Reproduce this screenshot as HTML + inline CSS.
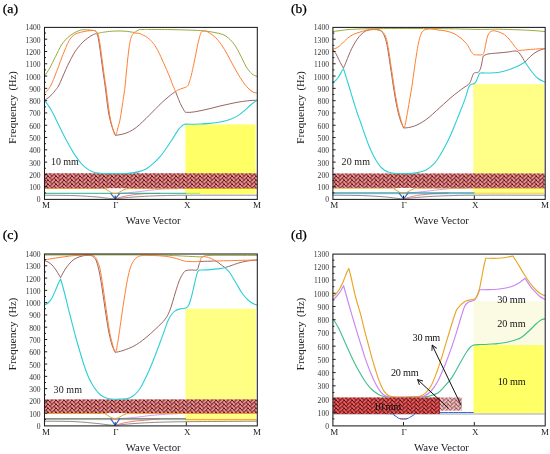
<!DOCTYPE html>
<html lang="en"><head><meta charset="utf-8"><title>Band structures</title>
<style>html,body{margin:0;padding:0;background:#fff}body{width:550px;height:454px;overflow:hidden}svg{display:block;font-family:"Liberation Serif","Noto Serif CJK SC",serif}</style></head><body>
<svg width="550" height="454" viewBox="0 0 550 454">
<defs>
<pattern id="weave" width="8.004" height="4.002" patternUnits="userSpaceOnUse"><path d="M-2.00,-2.00L0.00,0.00M0.00,0.00L-2.00,2.00M6.00,-2.00L4.00,0.00M2.00,-2.00L4.00,0.00M4.00,0.00L2.00,2.00M0.00,0.00L2.00,2.00M-2.00,2.00L0.00,4.00M0.00,4.00L-2.00,6.00M6.00,-2.00L8.00,0.00M8.00,0.00L6.00,2.00M6.00,2.00L4.00,4.00M2.00,2.00L4.00,4.00M4.00,4.00L2.00,6.00M0.00,4.00L2.00,6.00M8.00,0.00L10.01,2.00M6.00,2.00L8.00,4.00M8.00,4.00L6.00,6.00M8.00,4.00L10.01,6.00" fill="none" stroke="#1a0003" stroke-width="0.74" stroke-linecap="square"/></pattern>
<marker id="ah" viewBox="0 0 10 10" refX="9.2" refY="5" markerWidth="7" markerHeight="7" orient="auto" markerUnits="userSpaceOnUse"><path d="M2.2,1.2L9.2,5L2.2,8.8" fill="none" stroke="#111" stroke-width="1.3"/></marker>
</defs>
<rect width="550" height="454" fill="#fff"/>
<g id="panel-a">
<rect x="185.4" y="124.5" width="70.1" height="69.5" fill="#ffff66"/>
<path d="M44.2,195.2 C49.2,195.3 65.5,195.3 74.2,195.6 C82.9,195.9 90.7,196.5 96.2,196.9 C101.7,197.3 104.0,197.9 107.2,198.2 C110.4,198.5 113.8,198.8 115.2,198.9" fill="none" stroke="#6e6e6e" stroke-width="0.8" stroke-linejoin="round" />
<path d="M115.2,198.9 C116.8,198.7 121.0,198.2 125.2,197.8 C129.3,197.4 134.3,196.9 140.2,196.6 C146.0,196.2 152.5,195.9 160.2,195.7 C167.8,195.5 170.0,195.3 186.1,195.2 C202.3,195.1 245.2,195.2 257.1,195.2" fill="none" stroke="#6e6e6e" stroke-width="0.8" stroke-linejoin="round" />
<path d="M115.2,198.9 C116.0,198.7 118.3,197.9 120.2,197.4 C122.0,196.9 123.8,196.4 126.2,196.0 C128.5,195.6 131.0,195.1 134.2,194.7 C137.3,194.3 140.8,193.9 145.2,193.7 C149.5,193.5 157.7,193.4 160.2,193.4" fill="none" stroke="#f05a5a" stroke-width="0.8" stroke-linejoin="round" />
<path d="M119.2,193.3 C120.8,193.2 125.7,193.0 129.2,192.7 C132.7,192.4 136.5,191.9 140.2,191.5 C143.8,191.1 147.0,190.5 151.2,190.1 C155.3,189.7 160.7,189.2 165.2,189.0 C169.6,188.8 175.9,188.8 178.1,188.7" fill="none" stroke="#c886f2" stroke-width="0.8" stroke-linejoin="round" />
<path d="M44.2,193.3H186.1" stroke="#1fa98a" stroke-width="0.95" fill="none"/>
<path d="M44.2,188.5 C53.7,188.5 90.9,188.4 101.2,188.5 C111.4,188.6 104.2,188.8 105.7,189.3 C107.1,189.8 108.5,191.1 109.7,191.7 C110.8,192.3 111.4,192.8 112.4,193.1 C113.3,193.4 114.2,193.5 115.2,193.5 C116.1,193.5 117.2,193.3 118.2,192.9 C119.2,192.5 120.0,191.7 121.2,191.1 C122.3,190.5 123.5,189.7 125.2,189.3 C126.8,188.9 121.0,188.7 131.2,188.6 C141.3,188.5 165.1,188.5 186.1,188.5 C207.1,188.5 245.2,188.5 257.1,188.5" fill="none" stroke="#e8a628" stroke-width="1.0" stroke-linejoin="round" />
<path d="M110.6,193.3 L115.2,198.8 L119.8,193.3" stroke="#2a6be0" stroke-width="1.2" fill="none"/>
<path d="M186,193.3H200" stroke="#a8e070" stroke-width="1" fill="none"/>
<rect x="44.7" y="173.3" width="212.1" height="14.9" fill="#f98d8d"/><rect x="44.7" y="173.3" width="212.1" height="14.9" fill="url(#weave)" opacity="1"/>
<path d="M44.5,76.1 C45.4,74.8 47.9,71.3 49.8,68.0 C51.6,64.7 53.6,60.2 55.6,56.4 C57.6,52.5 59.5,48.0 61.5,44.9 C63.5,41.8 65.4,39.9 67.3,38.0 C69.2,36.1 71.2,34.8 73.1,33.6 C75.0,32.4 77.2,31.2 78.9,30.6 C80.6,30.0 81.8,29.8 83.3,29.7 C84.8,29.6 85.9,29.8 87.6,29.9 C89.3,30.0 92.2,30.3 93.5,30.5 C94.8,30.7 94.9,30.8 95.6,31.3 C96.3,31.8 96.8,33.1 97.5,33.4 C98.2,33.6 99.2,33.0 100.0,32.8 C100.8,32.6 100.6,32.6 102.2,32.4 C103.8,32.2 107.2,31.6 109.5,31.4 C111.8,31.2 113.6,31.1 116.0,31.0 C118.4,30.9 121.7,31.0 124.0,31.1 C126.3,31.2 128.2,31.6 130.0,31.8 C131.8,32.0 133.3,32.6 134.5,32.4 C135.7,32.2 136.2,31.3 137.0,30.8 C137.8,30.3 138.4,29.8 139.6,29.6 C140.8,29.4 142.3,29.5 144.0,29.5 C145.7,29.5 145.7,29.5 150.0,29.5 C154.3,29.5 163.3,29.5 170.0,29.6 C176.7,29.7 184.3,29.9 190.0,30.1 C195.7,30.3 199.9,30.5 203.9,30.9 C207.9,31.3 210.9,31.8 214.1,32.4 C217.2,33.0 220.4,33.5 222.8,34.5 C225.2,35.5 226.7,36.5 228.6,38.2 C230.5,39.9 232.6,41.9 234.5,44.7 C236.4,47.5 238.4,51.3 240.3,54.9 C242.2,58.5 244.2,63.4 246.1,66.5 C248.0,69.7 250.1,72.1 251.9,73.8 C253.7,75.5 256.1,76.0 257.0,76.4" fill="none" stroke="#9ba83a" stroke-width="1.0" stroke-linejoin="round" />
<path d="M44.4,100.2 C45.0,99.8 46.7,99.0 48.0,98.0 C49.3,97.0 50.8,95.5 52.0,94.3 C53.2,93.1 53.9,92.1 55.0,90.7 C56.1,89.3 57.3,88.1 58.5,86.0 C59.7,83.9 60.8,81.0 62.0,78.3 C63.2,75.5 64.6,72.2 65.8,69.5 C67.0,66.8 68.2,64.4 69.4,62.0 C70.6,59.6 71.9,57.0 73.1,54.9 C74.3,52.8 75.5,51.0 76.7,49.3 C77.9,47.6 79.2,46.1 80.4,44.7 C81.6,43.3 82.8,42.1 84.0,41.0 C85.2,39.9 86.5,39.0 87.6,38.2 C88.7,37.4 89.6,36.7 90.6,36.1 C91.6,35.5 92.6,34.9 93.5,34.5 C94.4,34.1 95.5,33.5 96.2,33.8 C96.9,34.0 97.2,33.5 97.8,36.0 C98.4,38.5 99.2,43.3 100.0,49.1 C100.8,54.9 102.1,64.8 102.9,70.9 C103.8,77.1 104.2,79.3 105.1,86.0 C106.0,92.7 107.2,104.3 108.3,111.0 C109.4,117.7 110.6,121.9 111.8,126.0 C113.0,130.1 114.9,133.8 115.5,135.4 L115.5,135.4 C116.8,135.2 120.8,134.6 123.1,134.0 C125.4,133.4 127.4,132.7 129.6,131.6 C131.8,130.5 134.0,129.2 136.2,127.5 C138.4,125.8 140.5,123.8 142.7,121.7 C144.9,119.7 147.1,117.4 149.3,115.2 C151.5,113.0 153.6,110.8 155.8,108.6 C158.0,106.4 160.2,104.1 162.4,102.1 C164.6,100.1 166.7,98.2 168.9,96.4 C171.1,94.6 174.4,92.2 175.5,91.4 L175.5,91.4 C176.0,92.8 177.6,97.0 178.7,99.6 C179.8,102.2 180.9,104.9 182.0,107.0 C183.1,109.1 184.8,111.4 185.3,112.3 L185.3,112.3 C186.4,112.3 189.4,112.5 191.8,112.2 C194.2,112.0 197.0,111.4 200.0,110.8 C203.0,110.2 206.7,109.4 210.0,108.6 C213.3,107.8 216.7,106.8 220.0,106.0 C223.3,105.2 226.7,104.5 230.0,103.8 C233.3,103.1 236.7,102.3 240.0,101.8 C243.3,101.3 247.2,100.9 250.0,100.6 C252.8,100.3 255.8,100.3 257.0,100.2" fill="none" stroke="#9a6464" stroke-width="1.0" stroke-linejoin="round" />
<path d="M44.4,93.1 C44.9,92.6 46.5,91.5 47.5,90.3 C48.5,89.1 49.3,88.2 50.5,86.0 C51.7,83.8 53.2,80.2 54.5,77.0 C55.8,73.8 57.2,69.8 58.5,66.5 C59.8,63.2 60.8,60.1 62.0,57.0 C63.2,53.9 64.8,50.0 65.8,47.6 C66.8,45.2 67.3,44.2 68.0,42.8 C68.7,41.3 69.1,40.3 70.2,38.9 C71.3,37.5 72.8,35.6 74.5,34.5 C76.2,33.4 78.2,33.0 80.4,32.4 C82.6,31.8 85.4,31.2 87.6,30.9 C89.8,30.6 92.0,30.4 93.5,30.5 C95.0,30.6 95.6,30.7 96.4,31.6 C97.2,32.5 97.8,33.1 98.5,36.0 C99.2,38.9 99.9,43.3 100.7,49.1 C101.5,54.9 102.8,64.8 103.6,70.9 C104.4,77.1 105.1,81.2 105.8,86.0 C106.5,90.8 106.9,94.8 107.6,100.0 C108.3,105.2 109.2,112.3 110.0,117.0 C110.8,121.7 111.9,125.2 112.6,128.0 C113.3,130.8 113.8,132.4 114.3,133.6 C114.8,134.8 115.1,135.3 115.5,135.2 C115.9,135.1 116.2,134.2 116.6,133.2 C116.9,132.2 117.1,131.1 117.6,129.0 C118.1,127.0 119.1,124.1 119.8,120.9 C120.5,117.7 121.0,113.5 121.6,110.0 C122.2,106.5 122.6,103.6 123.2,99.6 C123.8,95.6 124.5,90.8 125.1,86.0 C125.6,81.2 126.0,75.8 126.5,70.9 C127.0,66.0 127.5,60.8 128.0,56.4 C128.5,52.0 129.0,47.7 129.5,44.7 C130.0,41.7 130.4,39.9 130.9,38.2 C131.4,36.5 131.9,35.4 132.4,34.6 C132.9,33.8 133.3,33.6 133.8,33.4 C134.3,33.1 134.5,33.1 135.3,33.1 C136.2,33.1 137.8,33.2 138.9,33.4 C140.0,33.6 140.7,34.0 141.8,34.5 C142.9,35.0 144.3,35.6 145.5,36.3 C146.7,37.0 148.0,38.0 149.1,38.9 C150.2,39.8 151.0,40.7 152.0,41.8 C153.0,42.9 153.9,44.0 154.9,45.5 C155.9,47.0 156.8,48.7 157.8,50.5 C158.8,52.3 159.7,54.3 160.7,56.4 C161.7,58.5 162.6,60.7 163.6,62.9 C164.6,65.1 165.4,67.0 166.5,69.5 C167.6,72.0 169.1,75.5 170.2,78.2 C171.3,81.0 172.2,83.8 173.1,86.0 C174.0,88.2 175.1,90.5 175.5,91.4 L175.5,91.4 C176.3,91.0 178.8,89.7 180.4,89.0 C182.0,88.3 184.1,87.9 185.3,87.4 C186.5,86.9 187.1,86.5 187.6,86.0 C188.1,85.5 188.2,85.2 188.6,84.3 C189.0,83.4 189.4,82.0 189.8,80.5 C190.2,79.0 190.6,78.3 191.3,75.3 C192.0,72.2 193.2,66.8 194.2,62.2 C195.2,57.6 196.2,51.6 197.1,47.6 C197.9,43.6 198.7,40.3 199.3,38.0 C199.9,35.7 200.2,34.7 200.6,33.6 C201.0,32.5 201.4,31.8 202.0,31.4 C202.6,30.9 203.2,30.9 203.9,30.9 C204.7,30.9 205.5,30.9 206.5,31.3 C207.5,31.7 208.2,32.1 209.7,33.1 C211.2,34.1 213.6,35.6 215.5,37.5 C217.4,39.4 219.5,41.9 221.4,44.7 C223.3,47.5 225.3,50.8 227.2,54.2 C229.1,57.6 231.1,61.6 233.0,65.1 C234.9,68.6 236.9,72.1 238.8,75.3 C240.7,78.5 242.9,81.7 244.6,84.0 C246.3,86.3 247.6,87.7 249.0,89.0 C250.4,90.3 251.7,91.3 253.0,92.0 C254.3,92.7 256.3,92.8 257.0,93.0" fill="none" stroke="#ff7f32" stroke-width="1.0" stroke-linejoin="round" />
<path d="M44.5,100.3 C45.0,101.0 46.7,103.2 47.8,104.8 C48.9,106.4 50.0,107.9 51.2,110.0 C52.4,112.1 53.8,114.8 55.0,117.3 C56.2,119.8 57.5,122.5 58.7,125.0 C59.9,127.5 61.1,130.1 62.4,132.6 C63.6,135.1 64.9,137.5 66.2,139.9 C67.5,142.3 68.8,144.6 70.0,146.8 C71.2,149.0 72.5,151.1 73.7,153.1 C75.0,155.1 76.2,157.0 77.5,158.7 C78.8,160.4 80.0,162.0 81.2,163.4 C82.5,164.8 83.8,166.0 85.0,167.1 C86.2,168.2 87.5,169.1 88.7,169.9 C89.9,170.7 91.2,171.2 92.4,171.7 C93.7,172.2 94.9,172.5 96.2,172.8 C97.5,173.1 98.4,173.2 100.0,173.3 C101.6,173.4 103.5,173.5 106.0,173.6 C108.5,173.7 112.0,173.7 115.0,173.7 C118.0,173.7 121.2,173.6 124.0,173.5 C126.8,173.4 129.3,173.2 132.0,172.9 C134.7,172.6 137.6,172.1 140.0,171.4 C142.4,170.7 144.3,170.1 146.5,168.8 C148.7,167.5 150.9,165.6 153.1,163.7 C155.3,161.8 157.4,159.7 159.6,157.2 C161.8,154.7 164.0,151.6 166.2,148.5 C168.4,145.4 170.7,141.7 172.7,138.6 C174.7,135.5 176.6,132.1 178.2,129.9 C179.8,127.7 181.3,126.3 182.5,125.3 C183.7,124.3 184.9,124.3 185.4,124.1 L185.4,124.1 C186.2,124.1 187.6,124.2 190.0,124.2 C192.4,124.2 196.7,124.1 200.0,124.0 C203.3,123.9 206.7,123.7 210.0,123.4 C213.3,123.1 216.7,122.7 220.0,122.0 C223.3,121.3 227.0,120.5 230.0,119.4 C233.0,118.3 235.7,117.0 238.0,115.6 C240.3,114.2 242.0,112.7 244.0,111.0 C246.0,109.3 247.8,107.3 250.0,105.5 C252.2,103.7 255.8,101.1 257.0,100.2" fill="none" stroke="#2ccfd6" stroke-width="1.1" stroke-linejoin="round" />
<rect x="44.5" y="27.4" width="212.8" height="172.0" fill="none" stroke="#1c1c1c" stroke-width="1.05"/>
<path d="M44.2,192.85h1.8M44.2,186.71h3.0M44.2,180.56h1.8M44.2,174.41h3.0M44.2,168.27h1.8M44.2,162.12h3.0M44.2,155.97h1.8M44.2,149.83h3.0M44.2,143.68h1.8M44.2,137.54h3.0M44.2,131.39h1.8M44.2,125.24h3.0M44.2,119.10h1.8M44.2,112.95h3.0M44.2,106.80h1.8M44.2,100.66h3.0M44.2,94.51h1.8M44.2,88.36h3.0M44.2,82.22h1.8M44.2,76.07h3.0M44.2,69.92h1.8M44.2,63.78h3.0M44.2,57.63h1.8M44.2,51.49h3.0M44.2,45.34h1.8M44.2,39.19h3.0M44.2,33.05h1.8M115.2,199.0v-3.4M186.3,199.0v-3.4" stroke="#1c1c1c" stroke-width="1" fill="none"/>
<g font-size="7.6" text-anchor="end" fill="#333">
<text x="40.6" y="202.4">0</text>
<text x="40.6" y="190.1">100</text>
<text x="40.6" y="177.8">200</text>
<text x="40.6" y="165.5">300</text>
<text x="40.6" y="153.2">400</text>
<text x="40.6" y="140.9">500</text>
<text x="40.6" y="128.6">600</text>
<text x="40.6" y="116.4">700</text>
<text x="40.6" y="104.1">800</text>
<text x="40.6" y="91.8">900</text>
<text x="40.6" y="79.5">1000</text>
<text x="40.6" y="67.2">1100</text>
<text x="40.6" y="54.9">1200</text>
<text x="40.6" y="42.6">1300</text>
<text x="40.6" y="30.3">1400</text>
</g>
<g font-size="9" text-anchor="middle" fill="#222">
<text x="45.9" y="208.0">M</text>
<text x="115.8" y="208.0">Γ</text>
<text x="187.3" y="208.0">X</text>
<text x="257.0" y="208.0">M</text>
</g>
<text x="153.2" y="224.3" font-size="10.5" text-anchor="middle" textLength="55" lengthAdjust="spacingAndGlyphs" fill="#222">Wave Vector</text>
<text transform="translate(16.0,144.0) rotate(-90)" font-size="9.8" textLength="49" lengthAdjust="spacingAndGlyphs" fill="#222">Frequency</text>
<text transform="translate(16.0,90.4) rotate(-90)" font-size="9.8" textLength="19" lengthAdjust="spacingAndGlyphs" fill="#222">(Hz)</text>
<text x="2.7" y="12.6" font-size="13.4" textLength="15.4" lengthAdjust="spacingAndGlyphs" fill="#000" stroke="#000" stroke-width="0.25">(a)</text>
<text x="51" y="165" font-size="10" textLength="27.7" lengthAdjust="spacing" fill="#222">10 mm</text>
</g>
<g id="panel-b">
<rect x="473.3" y="84.1" width="70.8" height="110.1" fill="#ffff88"/>
<path d="M332.6,195.2 C337.6,195.3 353.9,195.3 362.6,195.6 C371.3,195.9 379.1,196.5 384.6,196.9 C390.1,197.3 392.4,197.9 395.6,198.2 C398.8,198.5 402.2,198.8 403.6,198.9" fill="none" stroke="#6e6e6e" stroke-width="0.8" stroke-linejoin="round" />
<path d="M403.6,198.9 C405.2,198.7 409.4,198.2 413.6,197.8 C417.7,197.4 422.7,196.9 428.6,196.6 C434.4,196.2 440.9,195.9 448.6,195.7 C456.2,195.5 458.4,195.3 474.5,195.2 C490.6,195.1 533.6,195.2 545.5,195.2" fill="none" stroke="#6e6e6e" stroke-width="0.8" stroke-linejoin="round" />
<path d="M403.6,198.9 C404.4,198.7 406.7,197.9 408.6,197.4 C410.4,196.9 412.2,196.4 414.6,196.0 C416.9,195.6 419.4,195.1 422.6,194.7 C425.7,194.3 429.2,194.0 433.6,193.7 C437.9,193.4 446.1,193.0 448.6,192.9" fill="none" stroke="#f05a5a" stroke-width="0.8" stroke-linejoin="round" />
<path d="M407.6,192.8 C409.2,192.7 414.1,192.5 417.6,192.2 C421.1,191.9 424.9,191.4 428.6,191.0 C432.2,190.6 435.4,190.0 439.6,189.6 C443.7,189.2 449.1,188.7 453.6,188.5 C458.0,188.3 464.3,188.4 466.5,188.4" fill="none" stroke="#c886f2" stroke-width="0.8" stroke-linejoin="round" />
<path d="M332.6,192.8H474.5" stroke="#1fa98a" stroke-width="0.95" fill="none"/>
<path d="M332.6,193.7H474.5" stroke="#2a6be0" stroke-width="0.55" fill="none"/>
<path d="M332.6,188.2 C342.1,188.2 379.3,188.1 389.6,188.2 C399.8,188.3 392.6,188.5 394.1,189.0 C395.5,189.5 396.9,190.8 398.1,191.4 C399.2,192.0 399.8,192.5 400.8,192.8 C401.7,193.1 402.6,193.2 403.6,193.2 C404.5,193.2 405.6,193.0 406.6,192.6 C407.6,192.2 408.4,191.4 409.6,190.8 C410.7,190.2 411.9,189.4 413.6,189.0 C415.2,188.6 409.4,188.4 419.6,188.3 C429.7,188.2 453.5,188.2 474.5,188.2 C495.5,188.2 533.6,188.2 545.5,188.2" fill="none" stroke="#e8a628" stroke-width="1.0" stroke-linejoin="round" />
<path d="M398.9,192.8 L403.6,198.8 L408.2,192.8" stroke="#2a6be0" stroke-width="1.2" fill="none"/>
<path d="M473.6,193.2H544" stroke="#eec24a" stroke-width="0.8" fill="none"/>
<rect x="333.1" y="173.5" width="211.6" height="14.4" fill="#f98d8d"/><rect x="333.1" y="173.5" width="211.6" height="14.4" fill="url(#weave)" opacity="1"/>
<path d="M332.8,31.6 C334.0,31.4 337.5,30.9 340.0,30.6 C342.5,30.3 344.7,29.9 348.0,29.6 C351.3,29.3 355.0,29.2 360.0,29.0 C365.0,28.8 365.0,28.7 378.0,28.6 C391.0,28.5 421.3,28.5 438.0,28.6 C454.7,28.7 468.0,29.3 478.0,29.4 C488.0,29.5 491.3,29.1 498.0,29.2 C504.7,29.3 512.0,29.6 518.0,29.8 C524.0,30.0 529.5,30.3 534.0,30.6 C538.5,30.9 543.2,31.4 545.0,31.6" fill="none" stroke="#9ba83a" stroke-width="1.0" stroke-linejoin="round" />
<path d="M332.9,49.6 C333.4,50.2 334.8,51.9 335.8,53.5 C336.8,55.1 337.7,57.4 338.7,59.3 C339.7,61.2 340.8,63.6 341.6,65.1 C342.4,66.5 343.2,67.5 343.5,68.0 L343.5,68.0 C343.9,67.0 345.1,64.4 346.0,62.2 C346.9,60.0 347.9,57.2 348.9,54.9 C349.9,52.6 350.7,50.6 351.8,48.4 C352.9,46.2 354.3,43.8 355.5,41.8 C356.7,39.8 357.8,38.3 359.1,36.7 C360.4,35.1 362.1,33.5 363.5,32.4 C364.9,31.3 366.1,30.7 367.8,30.2 C369.5,29.7 371.7,29.5 373.6,29.5 C375.6,29.5 378.0,29.7 379.5,30.2 C381.0,30.7 381.5,31.2 382.4,32.4 C383.3,33.6 384.1,35.0 385.0,37.5 C385.9,40.0 386.6,42.8 387.5,47.6 C388.4,52.4 389.4,60.1 390.4,66.5 C391.4,72.9 392.4,80.2 393.3,86.0 C394.2,91.8 395.0,96.6 395.8,101.0 C396.6,105.4 397.4,109.1 398.2,112.5 C399.0,115.9 399.9,118.9 400.8,121.5 C401.7,124.1 403.3,126.9 403.8,128.0 L403.8,128.0 C404.6,127.9 406.9,127.8 408.7,127.5 C410.5,127.2 412.3,126.8 414.5,126.0 C416.7,125.2 419.4,123.9 421.8,122.4 C424.2,121.0 426.7,119.2 429.1,117.3 C431.5,115.3 434.0,112.9 436.4,110.7 C438.8,108.5 441.2,106.4 443.6,104.2 C446.0,102.0 448.5,99.7 450.9,97.6 C453.3,95.5 456.0,93.5 458.2,91.8 C460.4,90.1 462.3,88.7 464.0,87.5 C465.7,86.3 467.3,85.5 468.4,84.5 C469.5,83.5 469.9,82.8 470.5,81.6 C471.1,80.4 471.5,78.6 472.0,77.3 C472.5,76.0 472.9,74.4 473.5,73.6 C474.1,72.8 474.8,72.8 475.6,72.6 C476.4,72.4 477.5,73.1 478.4,72.3 C479.2,71.5 480.1,69.6 480.7,67.9 C481.3,66.2 481.6,64.0 482.0,62.0 C482.4,60.0 483.0,57.0 483.2,56.0 L483.2,56.0 C484.0,55.7 485.5,54.5 488.0,54.0 C490.5,53.5 494.7,53.3 498.0,53.0 C501.3,52.7 505.0,52.3 508.0,52.0 C511.0,51.7 514.0,50.7 516.0,51.0 C518.0,51.3 518.5,52.2 520.0,54.0 C521.5,55.8 524.2,60.7 525.0,62.0 L525.0,62.0 C526.2,60.8 529.8,56.8 532.0,55.0 C534.2,53.2 535.8,52.1 538.0,51.0 C540.2,49.9 543.8,48.9 545.0,48.5" fill="none" stroke="#9a6464" stroke-width="1.0" stroke-linejoin="round" />
<path d="M332.9,49.1 C333.6,48.9 335.9,48.5 337.3,47.6 C338.8,46.8 339.9,45.6 341.6,44.0 C343.3,42.4 345.6,39.8 347.5,38.2 C349.4,36.6 351.4,35.5 353.3,34.5 C355.2,33.5 356.9,33.1 359.1,32.4 C361.3,31.7 364.0,30.7 366.4,30.2 C368.8,29.7 371.4,29.6 373.6,29.5 C375.8,29.4 377.9,29.4 379.5,29.9 C381.1,30.4 382.0,31.1 383.1,32.4 C384.2,33.7 385.1,35.0 386.0,37.5 C386.9,40.0 387.3,42.8 388.2,47.6 C389.1,52.4 390.1,60.1 391.1,66.5 C392.1,72.9 393.1,80.2 394.0,86.0 C394.9,91.8 395.7,96.7 396.5,101.0 C397.3,105.3 398.0,108.7 398.8,112.0 C399.6,115.3 400.5,118.6 401.2,121.0 C401.9,123.4 402.4,125.2 402.8,126.4 C403.2,127.6 403.5,128.1 403.9,127.9 C404.3,127.8 404.3,128.5 405.0,125.5 C405.7,122.5 406.8,116.5 407.9,110.0 C409.0,103.5 410.8,93.2 411.9,86.5 C412.9,79.8 413.4,75.2 414.2,70.0 C414.9,64.8 415.7,59.5 416.4,55.0 C417.1,50.5 417.8,46.2 418.5,43.0 C419.2,39.8 419.8,37.5 420.5,35.5 C421.2,33.5 421.9,32.0 423.0,31.0 C424.1,29.9 425.5,29.5 427.0,29.2 C428.5,28.9 430.2,28.9 432.0,29.0 C433.8,29.1 435.7,29.7 438.0,30.0 C440.3,30.3 443.3,30.4 446.0,31.0 C448.7,31.6 451.7,32.5 454.0,33.6 C456.3,34.7 458.3,36.3 460.0,37.5 C461.7,38.7 462.7,39.6 464.0,41.0 C465.3,42.4 466.9,44.1 468.0,45.8 C469.1,47.5 469.9,49.8 470.9,51.3 C471.9,52.8 473.3,54.2 473.8,54.8 L473.8,54.8 C474.5,54.8 476.6,54.9 478.0,54.9 C479.4,54.9 481.1,55.0 482.0,54.8 C482.9,54.6 483.0,54.5 483.5,53.5 C484.0,52.5 484.4,51.1 484.8,49.1 C485.2,47.1 485.7,44.0 486.2,41.8 C486.7,39.6 487.0,37.6 487.6,36.0 C488.2,34.4 489.0,33.3 489.8,32.4 C490.6,31.5 491.3,31.0 492.5,30.8 C493.7,30.6 495.1,30.8 497.1,31.4 C499.1,32.0 502.2,33.0 504.4,34.5 C506.6,36.0 508.5,38.4 510.2,40.4 C511.9,42.4 513.2,44.5 514.5,46.2 C515.8,47.9 517.6,49.8 518.2,50.5 L518.2,50.5 C519.8,50.4 524.7,50.0 528.0,49.7 C531.3,49.4 535.2,49.1 538.0,48.9 C540.8,48.7 543.8,48.6 545.0,48.5" fill="none" stroke="#ff7f32" stroke-width="1.0" stroke-linejoin="round" />
<path d="M332.9,82.5 C333.4,82.2 334.8,81.4 335.8,80.4 C336.8,79.4 337.7,78.2 338.7,76.7 C339.7,75.2 340.8,72.9 341.6,71.6 C342.4,70.2 343.2,69.1 343.5,68.6 L343.5,68.6 C343.9,69.9 345.1,73.8 346.0,76.7 C346.9,79.6 347.7,82.2 348.9,86.0 C350.1,89.8 351.6,95.0 353.0,99.5 C354.4,104.0 355.9,109.2 357.2,113.0 C358.4,116.8 359.3,118.5 360.5,122.0 C361.7,125.5 363.2,130.2 364.6,134.0 C366.0,137.8 367.3,141.7 368.6,145.0 C369.9,148.3 371.3,151.3 372.6,154.0 C373.9,156.7 375.2,158.9 376.5,161.0 C377.8,163.1 379.1,165.2 380.4,166.7 C381.7,168.2 382.9,169.1 384.2,170.0 C385.5,170.9 386.4,171.4 388.0,172.0 C389.6,172.6 391.5,173.0 394.0,173.3 C396.5,173.6 400.0,173.7 403.0,173.7 C406.0,173.7 409.4,173.6 412.0,173.4 C414.6,173.2 416.1,173.0 418.5,172.4 C420.9,171.8 423.9,171.3 426.5,169.8 C429.1,168.3 432.2,165.7 434.4,163.4 C436.6,161.1 437.9,158.6 439.7,155.8 C441.5,153.0 443.2,149.8 445.0,146.5 C446.8,143.2 448.5,139.8 450.2,136.0 C451.9,132.2 453.5,128.2 455.3,123.8 C457.1,119.3 459.4,113.7 461.1,109.3 C462.8,104.9 464.3,101.0 465.5,97.6 C466.7,94.2 467.4,90.9 468.1,88.9 C468.8,86.9 469.0,86.4 469.5,85.6 C470.0,84.8 470.5,84.6 471.3,84.3 C472.1,84.0 473.4,84.1 474.2,83.5 C475.0,82.9 475.7,82.2 476.4,80.9 C477.1,79.6 477.8,77.1 478.5,75.8 C479.2,74.5 478.8,73.6 480.4,73.1 C482.0,72.6 485.1,73.1 488.0,73.0 C490.9,72.9 494.7,73.0 498.0,72.5 C501.3,72.0 504.7,71.1 508.0,70.0 C511.3,68.9 515.2,67.3 518.0,66.0 C520.8,64.7 523.8,62.7 525.0,62.0 L525.0,62.0 C526.2,63.7 529.8,69.2 532.0,72.0 C534.2,74.8 535.8,76.8 538.0,78.5 C540.2,80.2 543.8,81.4 545.0,82.0" fill="none" stroke="#2ccfd6" stroke-width="1.1" stroke-linejoin="round" />
<rect x="332.9" y="27.4" width="212.3" height="172.0" fill="none" stroke="#1c1c1c" stroke-width="1.05"/>
<path d="M332.6,192.85h1.8M332.6,186.71h3.0M332.6,180.56h1.8M332.6,174.41h3.0M332.6,168.27h1.8M332.6,162.12h3.0M332.6,155.97h1.8M332.6,149.83h3.0M332.6,143.68h1.8M332.6,137.54h3.0M332.6,131.39h1.8M332.6,125.24h3.0M332.6,119.10h1.8M332.6,112.95h3.0M332.6,106.80h1.8M332.6,100.66h3.0M332.6,94.51h1.8M332.6,88.36h3.0M332.6,82.22h1.8M332.6,76.07h3.0M332.6,69.92h1.8M332.6,63.78h3.0M332.6,57.63h1.8M332.6,51.49h3.0M332.6,45.34h1.8M332.6,39.19h3.0M332.6,33.05h1.8M403.5,199.0v-3.4M474.3,199.0v-3.4" stroke="#1c1c1c" stroke-width="1" fill="none"/>
<g font-size="7.6" text-anchor="end" fill="#333">
<text x="329.0" y="202.4">0</text>
<text x="329.0" y="190.1">100</text>
<text x="329.0" y="177.8">200</text>
<text x="329.0" y="165.5">300</text>
<text x="329.0" y="153.2">400</text>
<text x="329.0" y="140.9">500</text>
<text x="329.0" y="128.6">600</text>
<text x="329.0" y="116.4">700</text>
<text x="329.0" y="104.1">800</text>
<text x="329.0" y="91.8">900</text>
<text x="329.0" y="79.5">1000</text>
<text x="329.0" y="67.2">1100</text>
<text x="329.0" y="54.9">1200</text>
<text x="329.0" y="42.6">1300</text>
<text x="329.0" y="30.3">1400</text>
</g>
<g font-size="9" text-anchor="middle" fill="#222">
<text x="334.3" y="208.0">M</text>
<text x="404.1" y="208.0">Γ</text>
<text x="475.3" y="208.0">X</text>
<text x="544.9" y="208.0">M</text>
</g>
<text x="441.4" y="224.3" font-size="10.5" text-anchor="middle" textLength="55" lengthAdjust="spacingAndGlyphs" fill="#222">Wave Vector</text>
<text transform="translate(304.4,144.0) rotate(-90)" font-size="9.8" textLength="49" lengthAdjust="spacingAndGlyphs" fill="#222">Frequency</text>
<text transform="translate(304.4,90.4) rotate(-90)" font-size="9.8" textLength="19" lengthAdjust="spacingAndGlyphs" fill="#222">(Hz)</text>
<text x="291.1" y="12.6" font-size="13.4" textLength="15.8" lengthAdjust="spacingAndGlyphs" fill="#000" stroke="#000" stroke-width="0.25">(b)</text>
<text x="341.6" y="165" font-size="10" textLength="28.4" lengthAdjust="spacing" fill="#222">20 mm</text>
</g>
<g id="panel-c">
<rect x="185.4" y="308.7" width="70.4" height="112.1" fill="#ffff84"/>
<path d="M44.2,421.2 C49.2,421.3 65.5,421.2 74.2,421.6 C82.9,422.0 90.7,422.9 96.2,423.4 C101.7,423.9 104.0,424.4 107.2,424.7 C110.4,425.0 113.8,425.3 115.2,425.4" fill="none" stroke="#6e6e6e" stroke-width="0.8" stroke-linejoin="round" />
<path d="M115.2,425.4 C116.8,425.2 121.0,424.7 125.2,424.3 C129.3,423.9 134.3,423.5 140.2,423.1 C146.0,422.8 152.5,422.4 160.2,422.2 C167.8,422.0 170.0,421.9 186.1,421.7 C202.3,421.5 245.2,421.3 257.1,421.2" fill="none" stroke="#6e6e6e" stroke-width="0.8" stroke-linejoin="round" />
<path d="M115.2,425.4 C116.0,425.1 118.3,424.4 120.2,423.9 C122.0,423.4 123.8,422.9 126.2,422.5 C128.5,422.1 131.0,421.6 134.2,421.2 C137.3,420.8 140.8,420.6 145.2,420.2 C149.5,419.8 157.7,419.0 160.2,418.7" fill="none" stroke="#f05a5a" stroke-width="0.8" stroke-linejoin="round" />
<path d="M119.2,418.6 C120.8,418.5 125.7,418.3 129.2,418.0 C132.7,417.7 136.5,417.2 140.2,416.8 C143.8,416.4 147.0,415.8 151.2,415.4 C155.3,415.0 160.7,414.6 165.2,414.3 C169.6,414.0 175.9,413.8 178.1,413.7" fill="none" stroke="#c886f2" stroke-width="0.8" stroke-linejoin="round" />
<path d="M44.2,418.6H186.1" stroke="#1fa98a" stroke-width="0.95" fill="none"/>
<path d="M44.2,419.6H186.1" stroke="#f05a5a" stroke-width="0.7" fill="none"/>
<path d="M44.2,413.5 C53.7,413.5 90.9,413.4 101.2,413.5 C111.4,413.6 104.2,413.8 105.7,414.3 C107.1,414.8 108.5,416.1 109.7,416.7 C110.8,417.3 111.4,417.8 112.4,418.1 C113.3,418.4 114.2,418.5 115.2,418.5 C116.1,418.5 117.2,418.3 118.2,417.9 C119.2,417.5 120.0,416.7 121.2,416.1 C122.3,415.5 123.5,414.7 125.2,414.3 C126.8,413.9 121.0,413.7 131.2,413.6 C141.3,413.5 165.1,413.5 186.1,413.5 C207.1,413.5 245.2,413.5 257.1,413.5" fill="none" stroke="#e8a628" stroke-width="1.0" stroke-linejoin="round" />
<path d="M110.6,418.6 L115.2,425.3 L119.8,418.6" stroke="#2a6be0" stroke-width="1.2" fill="none"/>
<path d="M185.4,419.7H256.8" stroke="#ff7f32" stroke-width="0.9"/>
<rect x="44.7" y="399.4" width="212.1" height="13.7" fill="#f98d8d"/><rect x="44.7" y="399.4" width="212.1" height="13.7" fill="url(#weave)" opacity="1"/>
<path d="M44.4,255.0 C62.0,255.0 125.7,254.8 150.0,255.0 C174.3,255.2 181.3,256.1 190.0,256.4 C198.7,256.7 198.7,257.0 202.0,256.8 C205.3,256.6 200.8,255.6 210.0,255.4 C219.2,255.2 249.2,255.4 257.0,255.4" fill="none" stroke="#9ba83a" stroke-width="1.0" stroke-linejoin="round" />
<path d="M44.4,260.6 C45.0,260.8 46.7,261.3 48.0,262.0 C49.3,262.7 50.7,263.7 52.0,265.0 C53.3,266.3 54.8,268.3 56.0,270.0 C57.2,271.7 58.2,273.7 59.0,275.0 C59.8,276.3 60.3,277.2 60.6,277.7 L60.6,277.7 C60.9,277.1 61.5,275.6 62.4,274.0 C63.3,272.4 64.7,269.8 66.0,268.0 C67.3,266.2 68.7,264.4 70.0,263.0 C71.3,261.6 72.3,260.5 74.0,259.4 C75.7,258.3 78.0,257.3 80.0,256.6 C82.0,255.9 84.2,255.6 86.0,255.4 C87.8,255.2 89.7,255.3 91.0,255.6 C92.3,255.9 93.0,256.3 94.0,257.4 C95.0,258.5 95.8,259.4 96.7,262.0 C97.6,264.6 98.5,268.2 99.5,273.0 C100.5,277.8 101.4,284.0 102.5,291.0 C103.6,298.0 104.9,308.0 106.0,315.0 C107.1,322.0 108.0,328.0 109.0,333.0 C110.0,338.0 111.0,341.8 112.0,345.0 C113.0,348.2 114.8,351.2 115.3,352.4 L115.3,352.4 C116.6,352.1 119.9,351.6 123.0,350.5 C126.1,349.4 130.3,348.0 134.0,346.0 C137.7,344.0 141.3,341.3 145.0,338.4 C148.7,335.5 152.8,331.6 156.1,328.5 C159.4,325.4 162.7,322.3 164.9,319.5 C167.1,316.7 168.0,314.7 169.3,311.8 C170.6,308.9 171.5,305.4 172.6,301.9 C173.7,298.4 174.8,294.3 175.9,290.8 C177.0,287.3 178.1,283.6 179.2,280.9 C180.3,278.1 181.4,276.0 182.5,274.3 C183.6,272.6 184.3,271.4 185.8,270.7 C187.3,270.0 189.4,270.1 191.3,270.0 C193.2,269.9 195.8,270.6 197.0,269.9 C198.2,269.2 198.1,267.4 198.6,266.0 C199.1,264.6 199.9,262.2 200.2,261.4 L200.2,261.4 C201.8,261.4 207.4,261.2 210.0,261.2 C212.6,261.2 214.3,260.7 216.0,261.2 C217.7,261.7 218.5,262.9 220.0,264.0 C221.5,265.1 224.2,267.0 225.0,267.6 L225.0,267.6 C225.8,267.3 227.5,266.8 230.0,266.0 C232.5,265.2 236.7,263.5 240.0,262.6 C243.3,261.7 247.2,261.0 250.0,260.6 C252.8,260.2 255.8,260.1 257.0,260.0" fill="none" stroke="#9a6464" stroke-width="1.0" stroke-linejoin="round" />
<path d="M44.4,260.0 C45.7,259.8 49.4,259.0 52.0,258.6 C54.6,258.2 57.0,257.8 60.0,257.4 C63.0,257.0 66.7,256.4 70.0,256.0 C73.3,255.6 76.7,255.4 80.0,255.2 C83.3,255.0 87.7,254.9 90.0,255.0 C92.3,255.1 92.8,255.2 94.0,256.0 C95.2,256.8 96.0,257.8 97.0,260.0 C98.0,262.2 99.0,264.5 100.0,269.0 C101.0,273.5 101.8,279.3 103.0,287.0 C104.2,294.7 105.8,307.2 107.0,315.0 C108.2,322.8 109.0,329.0 110.0,334.0 C111.0,339.0 112.0,342.2 112.7,345.0 C113.4,347.8 113.8,349.6 114.2,350.8 C114.6,352.0 115.0,352.4 115.3,352.3 C115.6,352.2 115.9,351.4 116.3,350.0 C116.7,348.6 117.0,346.5 117.5,343.7 C118.0,340.9 118.7,336.7 119.2,333.0 C119.8,329.3 120.0,327.3 120.8,321.7 C121.6,316.1 123.0,306.6 124.1,299.6 C125.2,292.6 126.3,285.3 127.4,279.8 C128.5,274.3 129.6,269.9 130.7,266.6 C131.8,263.4 132.9,261.9 134.0,260.3 C135.1,258.7 136.2,257.8 137.5,257.0 C138.8,256.2 139.9,255.9 142.0,255.6 C144.1,255.3 146.7,255.3 150.0,255.4 C153.3,255.5 158.7,255.7 162.0,256.0 C165.3,256.3 167.3,256.5 170.0,257.0 C172.7,257.5 176.0,258.4 178.0,259.0 C180.0,259.6 180.7,260.0 182.0,260.4 C183.3,260.8 185.1,261.2 185.7,261.4 L185.7,261.4 C187.9,261.4 196.4,262.0 199.0,261.4 C201.6,260.8 200.2,258.8 201.0,258.0 C201.8,257.2 202.5,256.6 204.0,256.6 C205.5,256.6 208.0,257.3 210.0,258.0 C212.0,258.7 215.0,260.5 216.0,261.0 L216.0,261.0 C220.0,260.9 233.2,260.6 240.0,260.4 C246.8,260.2 254.2,260.1 257.0,260.0" fill="none" stroke="#ff7f32" stroke-width="1.0" stroke-linejoin="round" />
<path d="M44.4,305.0 C45.0,304.7 46.7,304.2 48.0,303.0 C49.3,301.8 50.7,300.3 52.0,298.0 C53.3,295.7 54.8,291.7 56.0,289.0 C57.2,286.3 58.2,283.7 59.0,282.0 C59.8,280.3 60.3,279.5 60.6,279.0 L60.6,279.0 C61.2,281.0 62.4,285.0 64.0,291.0 C65.6,297.0 68.0,307.3 70.0,315.0 C72.0,322.7 74.0,330.8 75.7,337.0 C77.4,343.2 78.6,347.3 80.0,352.0 C81.4,356.7 82.7,361.0 84.0,365.0 C85.3,369.0 86.7,372.8 88.0,376.0 C89.3,379.2 90.7,381.7 92.0,384.0 C93.3,386.3 94.7,388.2 96.0,390.0 C97.3,391.8 98.7,393.3 100.0,394.5 C101.3,395.7 102.5,396.3 104.0,397.0 C105.5,397.7 107.2,398.3 109.0,398.7 C110.8,399.1 113.0,399.2 115.0,399.3 C117.0,399.4 118.9,399.1 121.0,399.0 C123.1,398.9 125.5,399.1 127.5,398.6 C129.5,398.1 131.2,397.5 133.1,396.0 C135.0,394.5 137.2,392.7 139.2,389.8 C141.2,386.9 143.2,382.9 145.2,378.8 C147.2,374.8 149.3,370.0 151.2,365.5 C153.1,361.0 154.9,356.2 156.5,352.0 C158.1,347.8 159.6,343.8 161.0,340.0 C162.4,336.2 163.8,332.2 165.0,329.0 C166.2,325.8 167.0,323.1 168.0,320.8 C169.0,318.5 169.9,316.9 171.0,315.3 C172.1,313.7 173.2,312.2 174.8,311.1 C176.4,310.0 178.5,309.4 180.3,308.9 C182.1,308.4 184.4,308.6 185.8,308.0 C187.2,307.4 187.8,307.0 188.7,305.2 C189.6,303.4 190.4,300.5 191.3,297.4 C192.2,294.3 193.0,290.2 193.9,286.4 C194.8,282.5 196.1,276.9 196.8,274.3 C197.5,271.7 197.7,271.5 198.3,270.8 C198.9,270.1 200.1,270.1 200.5,270.0 L200.5,270.0 C200.9,270.0 201.4,270.1 203.0,270.0 C204.6,269.9 207.2,269.8 210.0,269.6 C212.8,269.4 217.5,268.9 220.0,268.6 C222.5,268.3 224.2,267.8 225.0,267.6 L225.0,267.6 C225.8,268.5 228.2,270.4 230.0,273.0 C231.8,275.6 234.0,279.7 236.0,283.0 C238.0,286.3 240.0,290.2 242.0,293.0 C244.0,295.8 246.0,298.2 248.0,300.0 C250.0,301.8 252.5,303.2 254.0,304.0 C255.5,304.8 256.5,304.8 257.0,305.0" fill="none" stroke="#2ccfd6" stroke-width="1.1" stroke-linejoin="round" />
<rect x="44.5" y="254.0" width="212.8" height="171.9" fill="none" stroke="#1c1c1c" stroke-width="1.05"/>
<path d="M44.2,419.36h1.8M44.2,413.21h3.0M44.2,407.07h1.8M44.2,400.93h3.0M44.2,394.79h1.8M44.2,388.64h3.0M44.2,382.50h1.8M44.2,376.36h3.0M44.2,370.21h1.8M44.2,364.07h3.0M44.2,357.93h1.8M44.2,351.79h3.0M44.2,345.64h1.8M44.2,339.50h3.0M44.2,333.36h1.8M44.2,327.21h3.0M44.2,321.07h1.8M44.2,314.93h3.0M44.2,308.79h1.8M44.2,302.64h3.0M44.2,296.50h1.8M44.2,290.36h3.0M44.2,284.21h1.8M44.2,278.07h3.0M44.2,271.93h1.8M44.2,265.79h3.0M44.2,259.64h1.8M115.2,425.5v-3.4M186.3,425.5v-3.4" stroke="#1c1c1c" stroke-width="1" fill="none"/>
<g font-size="7.6" text-anchor="end" fill="#333">
<text x="40.6" y="428.9">0</text>
<text x="40.6" y="416.6">100</text>
<text x="40.6" y="404.3">200</text>
<text x="40.6" y="392.0">300</text>
<text x="40.6" y="379.8">400</text>
<text x="40.6" y="367.5">500</text>
<text x="40.6" y="355.2">600</text>
<text x="40.6" y="342.9">700</text>
<text x="40.6" y="330.6">800</text>
<text x="40.6" y="318.3">900</text>
<text x="40.6" y="306.0">1000</text>
<text x="40.6" y="293.8">1100</text>
<text x="40.6" y="281.5">1200</text>
<text x="40.6" y="269.2">1300</text>
<text x="40.6" y="256.9">1400</text>
</g>
<g font-size="9" text-anchor="middle" fill="#222">
<text x="45.9" y="434.5">M</text>
<text x="115.8" y="434.5">Γ</text>
<text x="187.3" y="434.5">X</text>
<text x="257.0" y="434.5">M</text>
</g>
<text x="153.2" y="450.8" font-size="10.5" text-anchor="middle" textLength="55" lengthAdjust="spacingAndGlyphs" fill="#222">Wave Vector</text>
<text transform="translate(16.0,370.5) rotate(-90)" font-size="9.8" textLength="49" lengthAdjust="spacingAndGlyphs" fill="#222">Frequency</text>
<text transform="translate(16.0,316.9) rotate(-90)" font-size="9.8" textLength="19" lengthAdjust="spacingAndGlyphs" fill="#222">(Hz)</text>
<text x="2.7" y="239.2" font-size="13.4" textLength="15.4" lengthAdjust="spacingAndGlyphs" fill="#000" stroke="#000" stroke-width="0.25">(c)</text>
<text x="53.6" y="392.7" font-size="10" textLength="28.4" lengthAdjust="spacing" fill="#222">30 mm</text>
</g>
<g id="panel-d">
<rect x="473.5" y="301.2" width="70.3" height="44" fill="#fbfbe3"/>
<rect x="473.5" y="345" width="70.3" height="68.3" fill="#ffff66"/>
<path d="M333,414H544.6" stroke="#9a9a9a" stroke-width="0.9" fill="none"/>
<path d="M333.0,413.4 C342.2,413.4 377.8,413.3 388.0,413.6 C398.2,413.9 392.3,414.5 394.0,415.2 C395.7,415.9 397.0,417.2 398.0,417.8 C399.0,418.4 398.5,418.5 400.0,418.6 C401.5,418.7 405.3,418.8 407.0,418.6 C408.7,418.4 408.8,417.8 410.0,417.2 C411.2,416.6 412.7,415.5 414.0,414.8 C415.3,414.1 413.7,413.6 418.0,413.2 C422.3,412.8 430.7,412.7 440.0,412.6 C449.3,412.5 468.1,412.5 473.7,412.5" fill="none" stroke="#2a6be0" stroke-width="1.0" stroke-linejoin="round" />
<path d="M400.3,419.3H406.8" stroke="#f05a5a" stroke-width="0.8" fill="none"/>
<path d="M332.8,318.8 C333.3,319.5 334.8,321.6 335.8,323.2 C336.8,324.8 337.8,326.6 338.8,328.6 C339.8,330.7 340.9,333.1 342.0,335.5 C343.1,337.9 344.3,340.7 345.4,343.2 C346.5,345.7 347.6,348.1 348.7,350.5 C349.8,352.9 350.9,355.4 352.0,357.7 C353.1,360.0 354.2,362.2 355.3,364.4 C356.4,366.5 357.5,368.6 358.6,370.6 C359.7,372.6 360.9,374.6 362.0,376.4 C363.1,378.2 364.1,379.9 365.2,381.5 C366.3,383.1 367.4,384.5 368.5,385.8 C369.6,387.1 370.8,388.4 371.9,389.5 C373.0,390.6 374.1,391.5 375.2,392.3 C376.3,393.1 377.2,393.8 378.5,394.4 C379.8,395.0 381.4,395.8 383.0,396.2 C384.6,396.6 384.7,396.8 388.0,397.0 C391.3,397.2 398.3,397.2 403.0,397.2 C407.7,397.2 412.7,397.1 416.0,397.0 C419.3,396.9 420.8,396.9 423.0,396.8 C425.2,396.7 426.9,396.8 429.4,396.1 C431.9,395.4 435.6,394.4 438.2,392.7 C440.8,391.0 442.8,388.3 445.2,385.7 C447.6,383.1 449.9,380.4 452.3,376.9 C454.7,373.4 457.0,368.6 459.3,364.5 C461.6,360.4 464.5,355.1 466.4,352.2 C468.3,349.3 469.3,348.2 470.5,347.0 C471.7,345.8 473.1,345.3 473.6,345.0 L473.6,345.0 C474.3,344.9 475.6,344.7 478.0,344.6 C480.4,344.5 484.7,344.4 488.0,344.2 C491.3,344.0 494.7,344.0 498.0,343.6 C501.3,343.2 504.7,342.8 508.0,342.0 C511.3,341.2 515.7,339.8 518.0,339.0 C520.3,338.2 520.0,338.5 522.0,337.0 C524.0,335.5 527.7,332.2 530.0,330.0 C532.3,327.8 534.2,325.7 536.0,324.0 C537.8,322.3 539.5,320.9 541.0,320.0 C542.5,319.1 544.3,318.9 545.0,318.7" fill="none" stroke="#3fbf8c" stroke-width="1.1" stroke-linejoin="round" />
<path d="M332.8,299.7 C333.3,299.2 334.8,298.3 336.0,297.0 C337.2,295.7 338.7,293.9 340.0,292.0 C341.3,290.1 343.0,286.8 343.6,285.7 L343.6,285.7 C344.3,288.1 346.2,295.1 347.6,300.0 C349.0,304.9 350.7,311.0 352.0,315.4 C353.3,319.8 354.2,322.7 355.3,326.4 C356.4,330.1 357.5,333.8 358.6,337.4 C359.7,341.0 360.9,344.5 362.0,348.0 C363.1,351.5 364.1,355.2 365.2,358.4 C366.3,361.6 367.4,364.5 368.5,367.4 C369.6,370.3 370.8,373.2 371.9,375.8 C373.0,378.4 374.1,380.8 375.2,383.0 C376.3,385.2 377.5,387.3 378.5,388.9 C379.5,390.5 380.4,391.6 381.3,392.6 C382.2,393.6 382.6,394.3 384.0,395.0 C385.4,395.7 386.3,396.6 389.5,397.0 C392.7,397.4 398.6,397.2 403.0,397.2 C407.4,397.2 412.5,397.1 416.0,396.9 C419.5,396.7 421.6,397.0 424.1,396.0 C426.6,395.0 428.8,393.6 431.1,391.0 C433.5,388.4 435.9,384.8 438.2,380.4 C440.5,376.0 443.1,369.5 445.2,364.5 C447.2,359.5 448.7,355.4 450.5,350.4 C452.3,345.4 454.0,340.2 455.8,334.6 C457.6,329.0 459.6,321.7 461.1,317.0 C462.6,312.3 463.4,308.9 464.6,306.4 C465.8,303.9 466.6,303.2 468.2,302.2 C469.8,301.2 472.6,301.5 474.1,300.4 C475.6,299.3 476.1,297.6 477.0,295.8 C477.9,294.0 479.0,290.7 479.4,289.7 L479.4,289.7 C481.1,289.7 486.9,289.7 489.8,289.6 C492.8,289.5 494.7,289.5 497.1,289.3 C499.5,289.1 502.0,288.8 504.4,288.3 C506.8,287.8 509.2,287.4 511.6,286.5 C514.0,285.6 517.1,283.9 518.9,282.9 C520.7,281.9 521.5,281.1 522.5,280.3 C523.5,279.5 524.6,278.6 525.0,278.3 L525.0,278.3 C525.7,279.3 527.7,282.4 529.1,284.4 C530.5,286.4 531.8,288.3 533.5,290.2 C535.2,292.1 537.4,294.4 539.3,296.0 C541.2,297.6 544.1,299.0 545.1,299.6" fill="none" stroke="#c886f2" stroke-width="1.15" stroke-linejoin="round" />
<path d="M332.8,296.0 C333.2,295.8 334.0,296.0 335.0,295.0 C336.0,294.0 337.7,292.2 339.0,290.0 C340.3,287.8 341.7,285.0 343.0,282.0 C344.3,279.0 346.0,274.3 347.0,272.0 C348.0,269.7 348.5,269.0 348.8,268.4 L348.8,268.4 C349.2,269.8 350.1,273.3 351.0,277.0 C351.9,280.7 353.1,286.7 354.0,290.5 C354.9,294.3 355.3,296.2 356.4,300.0 C357.4,303.8 359.1,309.0 360.3,313.2 C361.5,317.4 362.3,321.3 363.3,325.3 C364.3,329.3 365.3,333.3 366.4,337.4 C367.5,341.4 368.6,345.6 369.7,349.6 C370.8,353.7 372.0,358.2 373.0,361.7 C374.0,365.2 374.9,367.9 375.8,370.8 C376.7,373.7 377.6,376.6 378.5,379.1 C379.4,381.6 380.4,384.0 381.3,386.0 C382.2,388.0 383.1,389.9 384.0,391.2 C384.9,392.5 385.7,393.2 386.5,394.0 C387.3,394.8 387.7,395.3 389.0,395.8 C390.3,396.3 392.2,396.9 394.5,397.1 C396.8,397.3 399.8,397.2 403.0,397.2 C406.2,397.2 411.1,397.1 414.0,396.9 C416.9,396.7 418.6,396.7 420.6,396.0 C422.6,395.3 424.1,394.4 425.9,392.7 C427.6,391.0 429.4,388.9 431.1,385.7 C432.9,382.5 434.6,378.0 436.4,373.3 C438.2,368.6 439.9,363.1 441.7,357.5 C443.5,351.9 445.2,345.8 447.0,339.9 C448.8,334.0 450.7,327.2 452.3,322.2 C453.9,317.2 455.8,311.9 456.5,309.9 L456.5,309.9 C457.3,309.0 459.5,306.1 461.1,304.6 C462.8,303.1 464.3,301.7 466.4,300.8 C468.4,299.9 471.8,299.9 473.4,299.4 C475.0,298.8 475.3,298.8 476.2,297.5 C477.1,296.2 478.0,295.0 478.9,291.6 C479.8,288.2 480.9,281.5 481.8,277.1 C482.7,272.8 483.3,268.6 484.0,265.5 C484.7,262.4 485.5,259.4 485.8,258.2 L485.8,258.2 C487.2,258.2 491.3,258.4 494.0,258.4 C496.7,258.4 499.3,258.3 502.0,258.0 C504.7,257.7 508.2,256.9 510.0,256.6 C511.8,256.3 512.5,256.1 513.0,256.0 L513.0,256.0 C513.8,257.3 516.2,261.0 518.0,264.0 C519.8,267.0 522.0,270.8 524.0,274.0 C526.0,277.2 528.0,280.3 530.0,283.0 C532.0,285.7 534.2,288.2 536.0,290.0 C537.8,291.8 539.5,293.1 541.0,294.0 C542.5,294.9 544.3,295.4 545.0,295.7" fill="none" stroke="#e8a628" stroke-width="1.15" stroke-linejoin="round" />
<rect x="333.1" y="397.5" width="106.9" height="16.5" fill="#f35858"/><rect x="333.1" y="397.5" width="106.9" height="16.5" fill="url(#weave)" opacity="1"/>
<rect x="440.0" y="397.5" width="21.8" height="13.1" fill="#f9bcbc"/><rect x="440.0" y="397.5" width="21.8" height="13.1" fill="url(#weave)" opacity="0.7"/>
<rect x="332.9" y="254.1" width="212.3" height="171.8" fill="none" stroke="#1c1c1c" stroke-width="1.05"/>
<path d="M332.6,418.89h1.8M332.6,412.28h3.0M332.6,405.67h1.8M332.6,399.05h3.0M332.6,392.44h1.8M332.6,385.83h3.0M332.6,379.22h1.8M332.6,372.61h3.0M332.6,366.00h1.8M332.6,359.38h3.0M332.6,352.77h1.8M332.6,346.16h3.0M332.6,339.55h1.8M332.6,332.94h3.0M332.6,326.33h1.8M332.6,319.72h3.0M332.6,313.10h1.8M332.6,306.49h3.0M332.6,299.88h1.8M332.6,293.27h3.0M332.6,286.66h1.8M332.6,280.05h3.0M332.6,273.43h1.8M332.6,266.82h3.0M332.6,260.21h1.8M403.5,425.5v-3.4M474.3,425.5v-3.4" stroke="#1c1c1c" stroke-width="1" fill="none"/>
<g font-size="7.6" text-anchor="end" fill="#333">
<text x="329.0" y="428.9">0</text>
<text x="329.0" y="415.7">100</text>
<text x="329.0" y="402.5">200</text>
<text x="329.0" y="389.2">300</text>
<text x="329.0" y="376.0">400</text>
<text x="329.0" y="362.8">500</text>
<text x="329.0" y="349.6">600</text>
<text x="329.0" y="336.3">700</text>
<text x="329.0" y="323.1">800</text>
<text x="329.0" y="309.9">900</text>
<text x="329.0" y="296.7">1000</text>
<text x="329.0" y="283.4">1100</text>
<text x="329.0" y="270.2">1200</text>
<text x="329.0" y="257.0">1300</text>
</g>
<g font-size="9" text-anchor="middle" fill="#222">
<text x="334.3" y="434.5">M</text>
<text x="404.1" y="434.5">Γ</text>
<text x="475.3" y="434.5">X</text>
<text x="544.9" y="434.5">M</text>
</g>
<text x="441.4" y="450.8" font-size="10.5" text-anchor="middle" textLength="55" lengthAdjust="spacingAndGlyphs" fill="#222">Wave Vector</text>
<text transform="translate(304.4,370.5) rotate(-90)" font-size="9.8" textLength="49" lengthAdjust="spacingAndGlyphs" fill="#222">Frequency</text>
<text transform="translate(304.4,316.9) rotate(-90)" font-size="9.8" textLength="19" lengthAdjust="spacingAndGlyphs" fill="#222">(Hz)</text>
<text x="291.1" y="239.2" font-size="13.4" textLength="15.8" lengthAdjust="spacingAndGlyphs" fill="#000" stroke="#000" stroke-width="0.25">(d)</text>
<g font-size="10.2" fill="#111">
<text x="373.7" y="409.5" textLength="27.4" lengthAdjust="spacing">10 mm</text>
<text x="391" y="375.5" textLength="27.7" lengthAdjust="spacing">20 mm</text>
<text x="412.6" y="341" textLength="27.7" lengthAdjust="spacing">30 mm</text>
<text x="497.2" y="302.5" textLength="28.4" lengthAdjust="spacing">30 mm</text>
<text x="497.2" y="327.1" textLength="28.4" lengthAdjust="spacing">20 mm</text>
<text x="497.7" y="384.5" textLength="27.9" lengthAdjust="spacing">10 mm</text>
</g>
<path d="M461.2,405.5L432.2,345.2" stroke="#111" stroke-width="1" fill="none" marker-end="url(#ah)"/>
<path d="M448.3,408.1L417.6,379.6" stroke="#111" stroke-width="1" fill="none" marker-end="url(#ah)"/>
</g>
</svg>
</body></html>
